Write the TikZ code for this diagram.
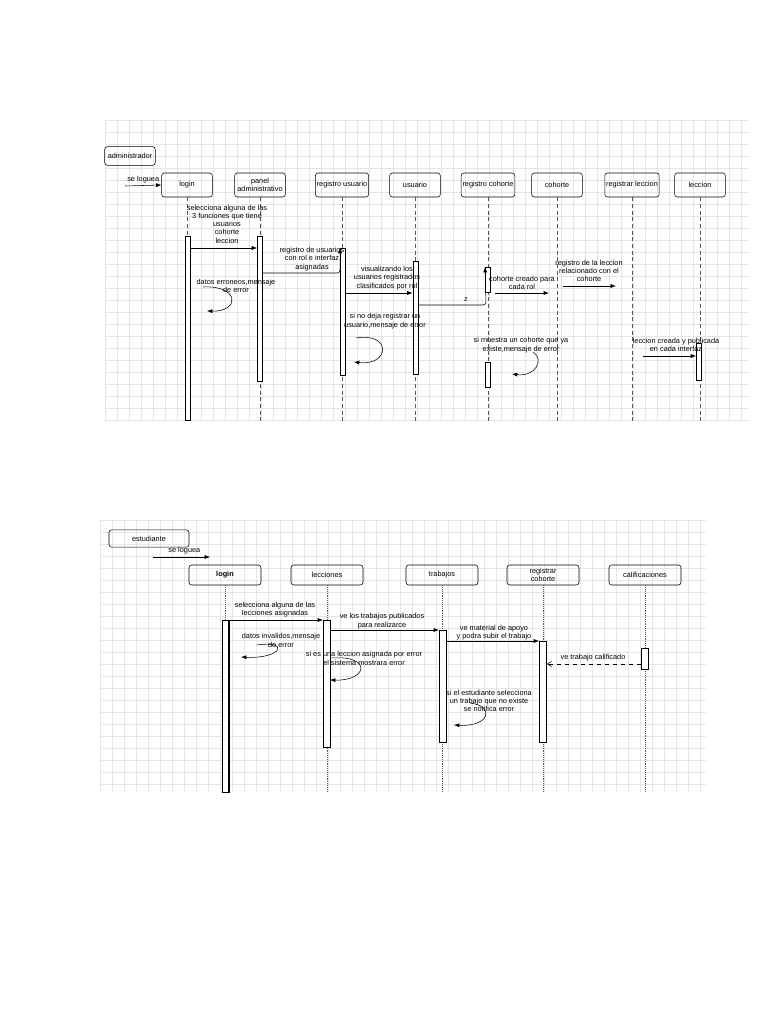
\documentclass[tikz,border=0pt]{standalone}
\usepackage{fontspec}
\setmainfont{Liberation Sans}
\usetikzlibrary{arrows.meta}
\begin{document}
\begin{tikzpicture}[x=0.75pt,y=-0.75pt,
  hdr/.style={draw,rounded corners=2pt,minimum width=#1,minimum height=18pt,align=center,font=\fontsize{5.5}{6}\selectfont,inner sep=1pt},
  hdr/.default=38pt,
  act/.style={draw,fill=white,minimum width=4pt,inner sep=0pt},
  life/.style={densely dashed,gray!70!black,thin},
  msg/.style={-{Latex[length=4pt,width=3pt]},thin},
  lbl/.style={font=\fontsize{5.5}{6.2}\selectfont,align=center,inner sep=0pt},
  loop/.style={-{Latex[length=4pt,width=3pt]},thin}]
\useasboundingbox (0,0) rectangle (768,1024);
\fill[white] (0,0) rectangle (768,1024);
% grids
\begin{scope}
\clip (105,120) rectangle (748,421);
\foreach \x in {105,117,...,748} \draw[gray!20,very thin] (\x,120) -- (\x,421);
\foreach \y in {120,132,...,421} \draw[gray!20,very thin] (105,\y) -- (748,\y);
\end{scope}
\begin{scope}
\clip (100,520) rectangle (706,792);
\foreach \x in {100,112,...,706} \draw[gray!20,very thin] (\x,520) -- (\x,792);
\foreach \y in {520,532,...,792} \draw[gray!20,very thin] (100,\y) -- (706,\y);
\end{scope}
%%%%% TOP
\node[hdr=38pt,minimum height=14pt] (adm) at (130,156) {administrador};
\node[hdr] (t1) at (187,185) {login};
\node[hdr] (t2) at (260,185) {panel\\administrativo};
\node[hdr] (t3) at (342,185) {registro usuario};
\node[hdr] (t4) at (415,185) {usuario};
\node[hdr] (t5) at (488,185) {registro cohorte};
\node[hdr] (t6) at (557,185) {cohorte};
\node[hdr] (t7) at (632,185) {registrar leccion};
\node[hdr] (t8) at (700,185) {leccion};
\foreach \n/\x in {t1/187,t2/260,t3/342,t4/415,t5/488,t6/557,t7/632,t8/700}
  \draw[life] (\n.south) -- (\x,421);
\node[act,minimum height=138pt,anchor=north] (a1) at (187.5,236) {};
\node[act,minimum height=109pt,anchor=north] (a2) at (260,236) {};
\node[act,minimum height=95pt,anchor=north] (a3) at (343,248) {};
\node[act,minimum height=85pt,anchor=north] (a4) at (415.5,261) {};
\node[act,minimum height=19pt,anchor=north] (a5) at (488,267) {};
\node[act,minimum height=19pt,anchor=north] (a6) at (488,362) {};
\node[act,minimum height=28pt,anchor=north] (a8) at (699,343) {};
\coordinate (lg0) at (125,186);
\draw[msg] (lg0) -- (t1.west) node[lbl,pos=0.5,above=2pt] {se loguea};
\node[lbl] (m1) at (227,224) {selecciona alguna de las\\3 funciones que tiene\\usuarios\\cohorte\\leccion};
\draw[msg] (a1.east |- 0,248) -- (a2.west |- 0,248);
\node[lbl] (m2) at (312,259) {registro de usuarios\\con rol e interfaz\\asignadas};
\draw[msg,rounded corners=2pt] (a2.east |- 0,273) -- (340,273) -- (a3.north west);
\node[lbl] (m3) at (387,278) {visualizando los\\usuarios registrados\\clasificados por rol};
\draw[msg] (a3.east |- 0,293) -- (a4.west |- 0,293);
\draw[msg,rounded corners=2pt] (a4.east |- 0,305) -- (486,305) -- (a5.north west);
\node[lbl] (mz) at (466,300) {z};
\node[lbl] (m4) at (522,283) {cohorte creado para\\cada rol};
\coordinate (c4a) at (495,293); \coordinate (c4b) at (549,293);
\draw[msg] (c4a) -- (c4b);
\node[lbl] (m5) at (589,271) {registro de la leccion\\relacionado con el\\cohorte};
\coordinate (c5a) at (563,286); \coordinate (c5b) at (616,286);
\draw[msg] (c5a) -- (c5b);
\node[lbl] (m6) at (236,286) {datos erroneos,mensaje\\de error};
\draw[loop] (203,287) .. controls (240,285) and (240,312) .. (207,311);
\node[lbl] (m7) at (385,321) {si no deja registrar un\\usuario,mensaje de error};
\draw[loop] (356,338) .. controls (392,332) and (390,366) .. (354,362);
\node[lbl] (m8) at (521,345) {si muestra un cohorte que ya\\existe,mensaje de error};
\draw[loop] (533,352) .. controls (545,360) and (535,377) .. (512,374);
\node[lbl] (m9) at (676,345) {leccion creada y publicada\\en cada interfaz};
\coordinate (c9) at (643,356);
\draw[msg] (c9) -- (a8.west |- 0,356);
%%%%% BOTTOM
\node[hdr=60pt,minimum height=13pt] (est) at (149,538.5) {estudiante};
\node[hdr=54pt,minimum height=15pt,font=\fontsize{5.5}{6}\selectfont\bfseries] (b1) at (225,575) {login};
\node[hdr=54pt,minimum height=15pt] (b2) at (327,575) {lecciones};
\node[hdr=54pt,minimum height=15pt] (b3) at (442,575) {trabajos};
\node[hdr=54pt,minimum height=15pt] (b4) at (543,575) {registrar\\cohorte};
\node[hdr=54pt,minimum height=15pt] (b5) at (645,575) {calificaciones};
\foreach \n/\x in {b1/225,b2/327,b3/442,b4/543,b5/645}
  \draw[life,densely dotted] (\n.south) -- (\x,792);
\node[act,minimum width=5pt,minimum height=129pt,anchor=north] (d1) at (225.5,620) {};
\draw[thick] (229,620) -- (229,792);
\node[act,minimum width=5.5pt,minimum height=95pt,anchor=north] (d2) at (327,620) {};
\node[act,minimum width=5pt,minimum height=84pt,anchor=north] (d3) at (442.5,630) {};
\node[act,minimum width=5.5pt,minimum height=76pt,anchor=north] (d4) at (543,641) {};
\node[act,minimum width=5pt,minimum height=16pt,anchor=north] (d5) at (644.5,648) {};
\coordinate (lg1) at (153,557); \coordinate (lg2) at (210,557);
\draw[msg] (lg1) -- (lg2) node[lbl,pos=0.55,above=2pt] {se loguea};
\node[lbl] (n1) at (275,609.5) {selecciona alguna de las\\lecciones asignadas};
\draw[msg] (229,620) -- (d2.west |- 0,620);
\node[lbl] (n2) at (382,621) {ve los trabajos publicados\\para realizarce};
\draw[msg] (d2.east |- 0,630) -- (d3.west |- 0,630);
\node[lbl] (n3) at (494,632.5) {ve material de apoyo\\y podra subir el trabajo};
\draw[msg] (d3.east |- 0,641) -- (d4.west |- 0,641);
\node[lbl] (n4) at (593,658) {ve trabajo calificado};
\draw[dashed,thin,-{Straight Barb[length=3pt,width=4pt]}] (d5.west |- 0,664) -- (d4.east |- 0,664);
\node[lbl] (n5) at (281,640.5) {datos invalidos,mensaje\\de error};
\draw[loop] (257,645) .. controls (290,640) and (282,659) .. (241,657);
\node[lbl] (n6) at (364,658.5) {si es una leccion asignada por error\\el sistema mostrara error};
\draw[loop] (332,658) .. controls (372,655) and (368,681) .. (330,680);
\node[lbl] (n7) at (489,701) {si el estudiante selecciona\\un trabajo que no existe\\se notifica error};
\draw[loop] (470,703) .. controls (495,706) and (490,727) .. (454,725);
\end{tikzpicture}
\end{document}
